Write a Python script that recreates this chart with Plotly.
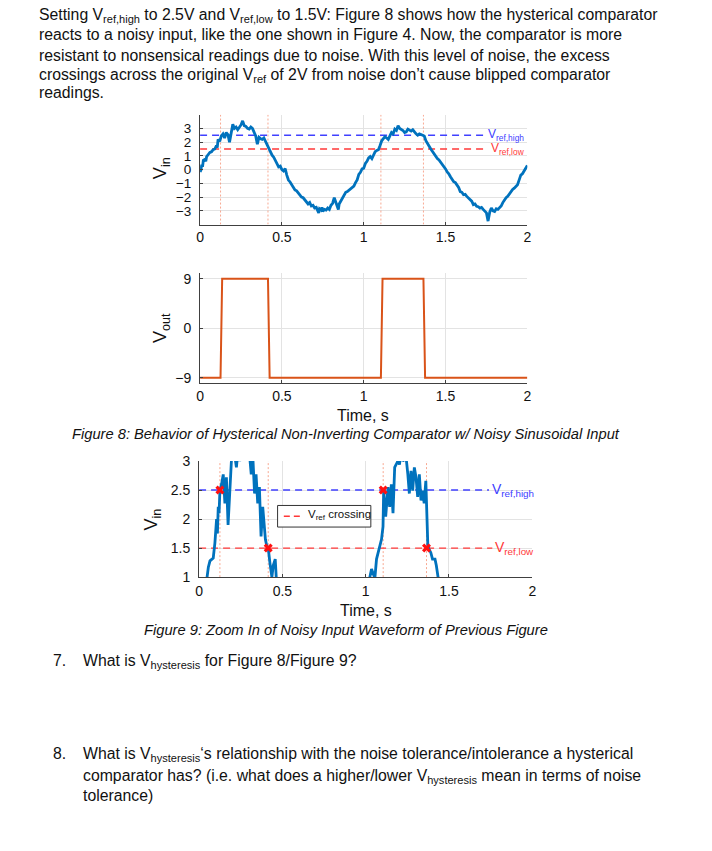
import plotly.graph_objects as go

W, H = 712, 851
FONT = "Arial, Liberation Sans, sans-serif"

# ---------------- data ----------------
# Figure 8 (top): noisy sinusoidal input
t_in = [0.00, 0.005, 0.01, 0.015, 0.02, 0.03, 0.035, 0.04, 0.05, 0.06, 0.07, 0.08, 0.09, 0.10, 0.105,
        0.11, 0.12, 0.13, 0.14, 0.15, 0.16, 0.17, 0.18, 0.19, 0.20, 0.21, 0.22, 0.23, 0.24, 0.25,
        0.26, 0.27, 0.28, 0.29, 0.30, 0.31, 0.32, 0.33, 0.34, 0.35, 0.36, 0.37, 0.38, 0.39, 0.40,
        0.41, 0.42, 0.43, 0.44, 0.45, 0.46, 0.47, 0.48, 0.49, 0.50, 0.51, 0.52, 0.53, 0.54, 0.55,
        0.56, 0.57, 0.58, 0.59, 0.60, 0.61, 0.62, 0.63, 0.64, 0.65, 0.66, 0.67, 0.68, 0.69, 0.70,
        0.71, 0.72, 0.725, 0.73, 0.74, 0.745, 0.75, 0.76, 0.77, 0.78, 0.79, 0.80, 0.81, 0.82, 0.83,
        0.84, 0.845, 0.85, 0.86, 0.87, 0.88, 0.89, 0.90, 0.91, 0.92, 0.93, 0.94, 0.95, 0.96, 0.97,
        0.98, 0.99, 1.00, 1.01, 1.02, 1.03, 1.04, 1.05, 1.06, 1.07, 1.08, 1.09, 1.10, 1.11, 1.12,
        1.13, 1.14, 1.15, 1.16, 1.17, 1.18, 1.19, 1.20, 1.21, 1.22, 1.23, 1.24, 1.25, 1.26, 1.27,
        1.28, 1.29, 1.30, 1.31, 1.32, 1.33, 1.34, 1.35, 1.36, 1.37, 1.38, 1.39, 1.40, 1.41, 1.42,
        1.43, 1.44, 1.45, 1.46, 1.47, 1.48, 1.49, 1.50, 1.51, 1.52, 1.53, 1.54, 1.55, 1.56, 1.57,
        1.58, 1.59, 1.60, 1.61, 1.62, 1.63, 1.64, 1.65, 1.66, 1.67, 1.68, 1.69, 1.70, 1.71, 1.72,
        1.73, 1.74, 1.75, 1.76, 1.77, 1.78, 1.79, 1.80, 1.81, 1.82, 1.83, 1.84, 1.85, 1.86, 1.87,
        1.88, 1.89, 1.90, 1.91, 1.92, 1.93, 1.94, 1.95, 1.96, 1.97, 1.98, 1.99, 2.00]
v_in = [-0.17, -0.05, 0.35, 0.20, 0.67, 0.75, 0.60, 0.95, 1.10, 1.25, 1.30, 1.45, 1.50, 1.75, 1.60,
        2.20, 2.05, 2.45, 2.60, 2.30, 2.70, 2.55, 2.00, 2.80, 3.30, 3.00, 3.10, 2.90, 3.05, 3.25,
        3.55, 3.20, 3.15, 3.00, 2.95, 3.10, 3.00, 2.70, 2.45, 1.85, 2.35, 2.25, 2.20, 2.30, 2.05,
        1.70, 1.50, 1.30, 1.05, 0.90, 0.70, 0.50, 0.20, 0.25, 0.00, -0.10, 0.07, -0.40, -0.76, -0.90,
        -1.12, -1.25, -1.48, -1.55, -1.70, -1.80, -2.00, -2.05, -2.20, -2.35, -2.50, -2.40, -2.65, -2.60, -2.80,
        -2.75, -3.00, -3.15, -2.85, -2.95, -2.75, -3.05, -2.90, -2.95, -2.80, -2.90, -2.60, -2.45, -2.05, -2.40,
        -2.70, -2.90, -2.50, -2.30, -2.00, -1.90, -1.65, -1.60, -1.50, -1.45, -1.35, -1.20, -0.95, -0.75, -0.35,
        -0.20, 0.05, 0.10, 0.45, 0.60, 0.85, 0.95, 0.80, 1.05, 1.30, 1.40, 1.45, 1.75, 2.10, 2.25,
        2.40, 2.30, 2.20, 2.45, 2.70, 2.60, 2.95, 2.85, 3.20, 3.00, 2.95, 2.85, 2.70, 2.75, 2.95,
        2.85, 2.80, 2.90, 2.70, 2.60, 2.50, 2.60, 2.55, 2.50, 2.45, 2.10, 1.85, 1.70, 1.50, 1.30,
        1.15, 0.95, 0.80, 0.70, 0.55, 0.35, 0.20, 0.05, -0.17, -0.30, -0.52, -0.70, -0.88, -0.95, -1.12,
        -1.30, -1.60, -1.65, -1.83, -1.80, -1.95, -2.05, -2.20, -2.30, -2.55, -2.50, -2.67, -2.70, -2.80, -2.75,
        -2.90, -3.00, -3.15, -3.75, -3.10, -2.80, -3.00, -3.05, -2.85, -2.90, -2.75, -2.65, -2.40, -2.20, -2.05,
        -1.95, -1.75, -1.60, -1.45, -1.35, -1.25, -1.10, -0.75, -0.40, -0.30, -0.05, 0.10, 0.31]

# comparator output
t_out = [0.0, 0.125, 0.135, 0.415, 0.425, 1.105, 1.115, 1.365, 1.375, 2.0]
v_out = [-9, -9, 9, 9, -9, -9, 9, 9, -9, -9]

# Figure 9: zoomed input (only the part inside 1..3 V is visible)
t_zoom = [0.030, 0.0457, 0.0556, 0.0655, 0.0754, 0.085, 0.095, 0.100, 0.105, 0.110, 0.115, 0.120,
          0.125, 0.135, 0.145, 0.155, 0.164, 0.174, 0.184, 0.194, 0.204, 0.224, 0.234, 0.244, 0.260,
          0.283, 0.300, 0.313, 0.323, 0.333, 0.342, 0.352, 0.362, 0.372, 0.382, 0.392, 0.398, 0.406,
          0.415, 0.425, 0.437, 0.445, 0.457, 0.465, 0.500, 1.000, 1.025, 1.035, 1.045, 1.055, 1.065,
          1.075, 1.085, 1.095, 1.104, 1.108, 1.120, 1.134, 1.144, 1.154, 1.164, 1.174, 1.183, 1.193,
          1.203, 1.213, 1.223, 1.243, 1.253, 1.262, 1.272, 1.282, 1.292, 1.302, 1.312, 1.322, 1.332,
          1.341, 1.351, 1.361, 1.367, 1.373, 1.381, 1.391, 1.401, 1.416, 1.424, 1.436, 1.460]
v_zoom = [0.60, 1.00, 1.17, 1.28, 1.31, 1.33, 1.59, 1.75, 2.00, 1.75, 2.21, 2.10,
          2.50, 2.60, 2.77, 2.27, 2.72, 1.90, 2.45, 3.00, 3.30, 2.89, 3.20, 3.00, 3.30,
          3.10, 3.20, 2.77, 3.05, 2.44, 2.77, 2.27, 2.55, 1.70, 2.21, 1.87, 1.65, 1.54,
          1.50, 1.25, 1.00, 1.20, 1.31, 0.90, 0.00, 0.00, 1.00, 1.14, 1.05, 0.98, 1.31,
          1.42, 1.54, 1.65, 1.87, 2.50, 2.04, 2.55, 2.21, 2.60, 2.10, 2.89, 2.94, 3.00,
          2.94, 3.20, 3.00, 3.05, 2.77, 2.44, 2.83, 2.49, 2.89, 2.72, 2.38, 2.77, 2.32,
          2.49, 2.27, 2.66, 2.10, 1.54, 1.48, 1.42, 1.31, 1.31, 1.20, 1.00, 0.50]

# thresholds and crossings
v_ref_high = 2.5
v_ref_low = 1.5
t_cross = [0.125, 0.415, 1.105, 1.365]
v_cross = [2.5, 1.5, 2.5, 1.5]
ref_line_end_high = 1.74
ref_line_end_low = 1.76

x_ticks = [0, 0.5, 1, 1.5, 2]
x_ticklabels = ["0", "0.5", "1", "1.5", "2"]
y1_ticks = [-3, -2, -1, 0, 1, 2, 3]
y2_ticks = [-9, 0, 9]
y3_ticks = [1, 1.5, 2, 2.5, 3]
y3_ticklabels = ["1", "1.5", "2", "2.5", "3"]

# ---------------- styles ----------------
BLUE = "#0072BD"
ORANGE = "#D95319"
DASH_BLUE = "#4040FF"
DASH_RED = "#FF3838"
DOT = "rgba(245,140,110,0.75)"
AXC = "#404040"
GRID = "#E3E3E3"


def px_x(px):
    return px / W


def px_y(py):
    return 1 - py / H


fig = go.Figure()

# ---- plot 1 ----
for tc in t_cross:
    fig.add_trace(go.Scatter(x=[tc, tc], y=[-4, 4], mode="lines", xaxis="x", yaxis="y",
                             line=dict(color=DOT, width=1, dash="2px,2px"), showlegend=False, hoverinfo="skip"))
fig.add_trace(go.Scatter(x=[0, ref_line_end_high], y=[v_ref_high] * 2, mode="lines", xaxis="x", yaxis="y",
                         line=dict(color=DASH_BLUE, width=1.4, dash="7px,5px"), showlegend=False))
fig.add_trace(go.Scatter(x=[0, ref_line_end_low], y=[v_ref_low] * 2, mode="lines", xaxis="x", yaxis="y",
                         line=dict(color=DASH_RED, width=1.4, dash="7px,5px"), showlegend=False))
fig.add_trace(go.Scatter(x=t_in, y=v_in, mode="lines", xaxis="x", yaxis="y",
                         line=dict(color=BLUE, width=2.8), showlegend=False))

# ---- plot 2 ----
fig.add_trace(go.Scatter(x=t_out, y=v_out, mode="lines", xaxis="x2", yaxis="y2",
                         line=dict(color=ORANGE, width=2), showlegend=False))

# ---- plot 3 ----
for tc in t_cross:
    fig.add_trace(go.Scatter(x=[tc, tc], y=[1, 3], mode="lines", xaxis="x3", yaxis="y3",
                             line=dict(color=DOT, width=1, dash="2px,2px"), showlegend=False, hoverinfo="skip"))
fig.add_trace(go.Scatter(x=[0, ref_line_end_high], y=[v_ref_high] * 2, mode="lines", xaxis="x3", yaxis="y3",
                         line=dict(color=DASH_BLUE, width=1.4, dash="7px,5px"), showlegend=False))
fig.add_trace(go.Scatter(x=[0, ref_line_end_low], y=[v_ref_low] * 2, mode="lines", xaxis="x3", yaxis="y3",
                         line=dict(color=DASH_RED, width=1.4, dash="7px,5px"), showlegend=False))
fig.add_trace(go.Scatter(x=t_zoom, y=v_zoom, mode="lines", xaxis="x3", yaxis="y3",
                         line=dict(color=BLUE, width=2.8), showlegend=False))
fig.add_trace(go.Scatter(x=t_cross, y=v_cross, mode="markers", xaxis="x3", yaxis="y3",
                         marker=dict(symbol="x", size=8, color="#FF1010", line=dict(width=0)),
                         showlegend=False))


def axis(standoff, fsize=14):
    return dict(showgrid=True, gridcolor=GRID, gridwidth=1, zeroline=False,
                showline=True, linecolor=AXC, linewidth=1, ticks="inside", ticklen=3,
                tickcolor=AXC, tickfont=dict(family=FONT, size=fsize, color="#111"),
                ticklabelstandoff=standoff)


d1x = [px_x(198.3), px_x(529.3)]
d3x = [px_x(197.3), px_x(534.3)]

fig.update_layout(
    width=W, height=H, margin=dict(l=0, r=0, t=0, b=0),
    paper_bgcolor="white", plot_bgcolor="white", showlegend=False,
    xaxis=dict(domain=d1x, range=[0, 2], tickvals=x_ticks, ticktext=x_ticklabels, anchor="y", **axis(0)),
    yaxis=dict(domain=[px_y(220.7), px_y(108.7)], range=[-4, 4], tickvals=y1_ticks, anchor="x", **axis(5, 13.5)),
    xaxis2=dict(domain=d1x, range=[0, 2], tickvals=x_ticks, ticktext=x_ticklabels, anchor="y2", **axis(0)),
    yaxis2=dict(domain=[px_y(382.3), px_y(270.4)], range=[-10, 10], tickvals=y2_ticks, anchor="x2", **axis(5)),
    xaxis3=dict(domain=d3x, range=[0, 2], tickvals=x_ticks, ticktext=x_ticklabels, anchor="y3", **axis(1)),
    yaxis3=dict(domain=[px_y(580), px_y(461.7)], range=[1, 3], tickvals=y3_ticks, ticktext=y3_ticklabels,
                anchor="x3", **axis(5)),
)

ann = []


def text(px, py, s, size=15, color="#111", anchor="left", italic=False, angle=0):
    ann.append(dict(x=px_x(px), y=px_y(py), xref="paper", yref="paper", text=s, showarrow=False,
                    xanchor=anchor, yanchor="middle", textangle=angle,
                    font=dict(family=FONT, size=size, color=color,
                              style="italic" if italic else "normal")))


# paragraph
PS = 15.8
text(33, 8, "Setting V<sub>ref,high</sub> to 2.5V and V<sub>ref,low</sub> to 1.5V: Figure 8 shows how the hysterical comparator", PS)
text(33, 27, "reacts to a noisy input, like the one shown in Figure 4. Now, the comparator is more", PS)
text(33, 48, "resistant to nonsensical readings due to noise. With this level of noise, the excess", PS)
text(33, 69, "crossings across the original V<sub>ref</sub> of 2V from noise don’t cause blipped comparator", PS)
text(33, 86, "readings.", PS)

# axis titles
text(160, 163, "V<sub>in</sub>", size=18, anchor="center", angle=-90)
text(160, 326, "V<sub>out</sub>", size=18, anchor="center", angle=-90)
text(150, 521, "V<sub>in</sub>", size=18, anchor="center", angle=-90)
text(363, 415, "Time, s", size=16, anchor="center")
text(366, 614, "Time, s", size=16, anchor="center")

# captions
text(346, 434, "Figure 8: Behavior of Hysterical Non-Inverting Comparator w/ Noisy Sinusoidal Input",
     size=14.7, anchor="center", italic=True)
text(346, 634, "Figure 9: Zoom In of Noisy Input Waveform of Previous Figure", size=14.7, anchor="center", italic=True)

# questions
text(48, 665, "7.", PS)
text(78, 666, "What is V<sub>hysteresis</sub> for Figure 8/Figure 9?", PS)
text(48, 760, "8.", PS)
text(78, 761, "What is V<sub>hysteresis</sub>‘s relationship with the noise tolerance/intolerance a hysterical", PS)
text(78, 783, "comparator has? (i.e. what does a higher/lower V<sub>hysteresis</sub> mean in terms of noise", PS)
text(78, 803, "tolerance)", PS)

# threshold labels (data coords)
for xa, ya, fs in (("x", "y", 12), ("x3", "y3", 14)):
    ann.append(dict(x=ref_line_end_high + 0.005, y=v_ref_high, xref=xa, yref=ya, text="V<sub>ref,high</sub>",
                    showarrow=False, xanchor="left", yanchor="middle",
                    font=dict(family=FONT, size=fs, color=DASH_BLUE)))
    ann.append(dict(x=ref_line_end_low + 0.005, y=v_ref_low, xref=xa, yref=ya, text="V<sub>ref,low</sub>",
                    showarrow=False, xanchor="left", yanchor="middle",
                    font=dict(family=FONT, size=fs, color=DASH_RED)))

# legend box (manual) in figure 9
text(305, 517, "V<sub>ref</sub> crossing", size=11.5)
fig.update_layout(annotations=ann, shapes=[
    dict(type="rect", xref="paper", yref="paper", x0=px_x(276.7), x1=px_x(371), y0=px_y(529), y1=px_y(507),
         line=dict(color="#333", width=1), fillcolor="white", layer="above"),
    dict(type="line", xref="paper", yref="paper", x0=px_x(283), x1=px_x(303), y0=px_y(518), y1=px_y(518),
         line=dict(color=DASH_RED, width=1.4, dash="6px,4px"), layer="above"),
])

fig.write_html("out.html", config={"displayModeBar": False},
               post_script="document.body.style.margin='0px';document.documentElement.style.overflow='hidden';")
